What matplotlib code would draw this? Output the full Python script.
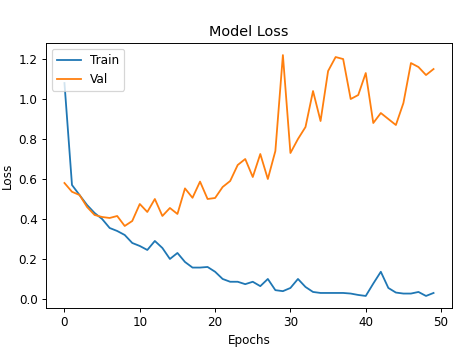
import matplotlib
matplotlib.use("Agg")
import matplotlib.pyplot as plt

epochs = list(range(50))
train_loss = [1.08, 0.57, 0.52, 0.47, 0.43, 0.40, 0.355, 0.34, 0.32, 0.28,
              0.265, 0.245, 0.29, 0.255, 0.20, 0.23, 0.185, 0.157, 0.157, 0.16,
              0.136, 0.10, 0.086, 0.086, 0.074, 0.086, 0.064, 0.10, 0.044, 0.039,
              0.055, 0.10, 0.06, 0.035, 0.03, 0.03, 0.03, 0.03, 0.027, 0.02,
              0.015, 0.077, 0.136, 0.055, 0.032, 0.027, 0.027, 0.035, 0.015, 0.03]
val_loss = [0.58, 0.536, 0.52, 0.46, 0.42, 0.41, 0.405, 0.415, 0.365, 0.39,
            0.475, 0.435, 0.50, 0.415, 0.455, 0.425, 0.553, 0.506, 0.587, 0.50,
            0.505, 0.56, 0.59, 0.67, 0.70, 0.61, 0.725, 0.60, 0.74, 1.22,
            0.73, 0.80, 0.86, 1.04, 0.89, 1.14, 1.21, 1.20, 1.00, 1.02,
            1.13, 0.88, 0.93, 0.90, 0.87, 0.98, 1.18, 1.16, 1.12, 1.15]

DPI = 86.4
fig = plt.figure(figsize=(471/DPI, 358/DPI), dpi=DPI)
ax = fig.add_axes([46/471, 1-308/358, (452-46)/471, (308-43)/358])
ax.plot(epochs, train_loss, label="Train")
ax.plot(epochs, val_loss, label="Val")
ax.set_title("Model Loss")
ax.set_xlabel("Epochs")
ax.set_ylabel("Loss")
ax.legend(loc="upper left")
fig.savefig("out.png", dpi=DPI)
